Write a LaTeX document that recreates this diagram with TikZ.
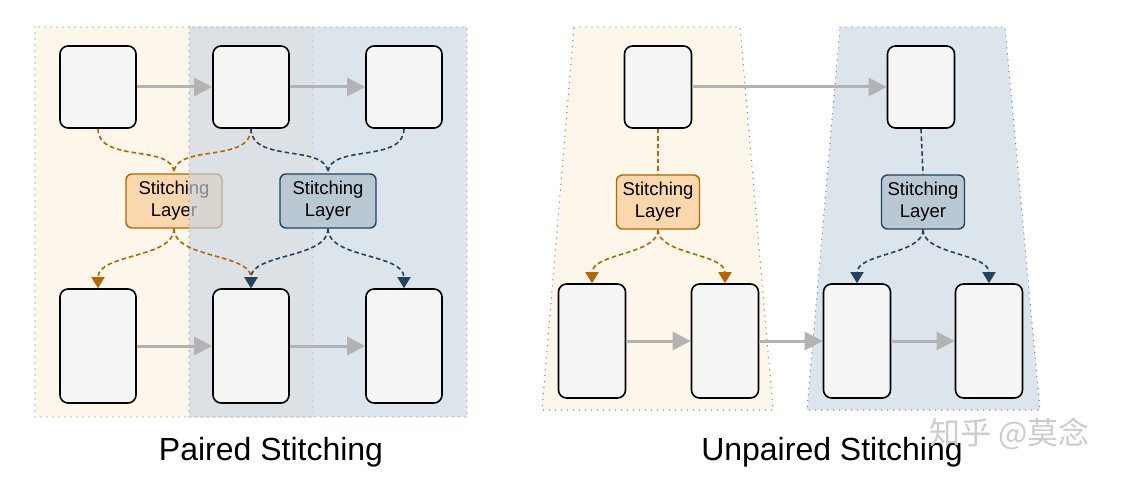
\documentclass[tikz,border=0pt]{standalone}
\usepackage{fontspec}
\setmainfont{Liberation Sans}
\newfontfamily\cjk{Noto Sans CJK SC}
\usetikzlibrary{arrows.meta, positioning}
\definecolor{regorange}{HTML}{FDF6EA}
\definecolor{regblue}{HTML}{C9D6E2}
\definecolor{stitchorange}{HTML}{FAD7AC}
\definecolor{lineorange}{HTML}{B46504}
\definecolor{stitchblue}{HTML}{BAC8D3}
\definecolor{lineblue}{HTML}{23445D}
\definecolor{flowgray}{HTML}{B3B3B3}
\definecolor{blockfill}{HTML}{F5F5F5}

\begin{document}
\begin{tikzpicture}[
    x=1pt, y=-1pt,
    block/.style={draw=black, line width=1.6pt, fill=blockfill, rounded corners=8pt, minimum width=76pt, inner sep=0pt},
    tall/.style={block, minimum height=114pt},
    short/.style={block, minimum height=82pt},
    stitch/.style={rounded corners=6pt, line width=1.4pt, minimum width=96pt, minimum height=54pt, align=center, font=\fontsize{18.5}{22}\selectfont, inner sep=0pt},
    flow/.style={-{Triangle[length=18pt, width=18pt]}, flowgray, line width=3pt},
    link/.style={line width=1.6pt, dash pattern=on 4.5pt off 3pt},
    region/.style={draw=gray, line width=1.4pt, line cap=round, dash pattern=on 0pt off 6pt},
]
\useasboundingbox (0,0) rectangle (1134,481);

% Paired stitching: regions
\draw[region, fill=regorange] (35,27) rectangle (313,417);
\node[stitch, draw=lineorange, fill=stitchorange] (so) at (174,201) {Stitching\\Layer};
\draw[region, fill=regblue, fill opacity=0.65] (189,27) rectangle (467,417);
\node[stitch, draw=lineblue, fill=stitchblue] (sb) at (328,201) {Stitching\\Layer};

% Paired stitching: blocks
\node[short] (a1) at (98,87) {};
\node[short] (a2) at (251,87) {};
\node[short] (a3) at (404,87) {};
\node[tall] (b1) at (98,346) {};
\node[tall] (b2) at (251,346) {};
\node[tall] (b3) at (404,346) {};

\draw[flow] (a1) -- (a2);
\draw[flow] (a2) -- (a3);
\draw[flow] (b1) -- (b2);
\draw[flow] (b2) -- (b3);

% Paired stitching: links
\draw[link, lineorange] (a1.south) .. controls +(0,35) and +(0,-30) .. (so.north);
\draw[link, lineorange] (a2.south) .. controls +(0,35) and +(0,-30) .. (so.north);
\draw[link, lineblue] (a2.south) .. controls +(0,35) and +(0,-30) .. (sb.north);
\draw[link, lineblue] (a3.south) .. controls +(0,35) and +(0,-30) .. (sb.north);
\draw[link, lineorange, -{Triangle[length=11pt, width=13pt]}] (so.south) .. controls +(0,30) and +(0,-35) .. (b1.north);
\draw[link, lineorange, -{Triangle[length=11pt, width=13pt]}] (so.south) .. controls +(0,30) and +(0,-35) .. (b2.north);
\draw[link, lineblue, -{Triangle[length=11pt, width=13pt]}] (sb.south) .. controls +(0,30) and +(0,-35) .. (b2.north);
\draw[link, lineblue, -{Triangle[length=11pt, width=13pt]}] (sb.south) .. controls +(0,30) and +(0,-35) .. (b3.north);

\node[font=\fontsize{32}{36}\selectfont] (tp) at (271,452) {Paired Stitching};

% Unpaired stitching: regions
\draw[region, fill=regorange] (574,27) -- (740,27) -- (773,410) -- (542,410) -- cycle;
\draw[region, fill=regblue, fill opacity=0.65] (840,27) -- (1005,27) -- (1040,410) -- (807,410) -- cycle;

% Unpaired stitching: blocks
\node[short, minimum width=67pt] (c1) at (658,87) {};
\node[short, minimum width=67pt] (c2) at (921,87) {};
\node[tall, minimum width=67pt] (d1) at (592,341) {};
\node[tall, minimum width=67pt] (d2) at (725,341) {};
\node[tall, minimum width=67pt] (d3) at (857,341) {};
\node[tall, minimum width=67pt] (d4) at (989,341) {};
\node[stitch, minimum width=83pt, draw=lineorange, fill=stitchorange] (uo) at (658,202) {Stitching\\Layer};
\node[stitch, minimum width=83pt, draw=lineblue, fill=stitchblue] (ub) at (923,202) {Stitching\\Layer};

\draw[flow] (c1) -- (c2);
\draw[flow] (d1) -- (d2);
\draw[flow] (d2) -- (d3);
\draw[flow] (d3) -- (d4);

% Unpaired stitching: links
\draw[link, lineorange] (c1) -- (uo);
\draw[link, lineblue] (c2.south) -- (ub.north);
\draw[link, lineorange, -{Triangle[length=11pt, width=13pt]}] (uo.south) .. controls +(0,25) and +(0,-30) .. (d1.north);
\draw[link, lineorange, -{Triangle[length=11pt, width=13pt]}] (uo.south) .. controls +(0,25) and +(0,-30) .. (d2.north);
\draw[link, lineblue, -{Triangle[length=11pt, width=13pt]}] (ub.south) .. controls +(0,25) and +(0,-30) .. (d3.north);
\draw[link, lineblue, -{Triangle[length=11pt, width=13pt]}] (ub.south) .. controls +(0,25) and +(0,-30) .. (d4.north);

\node[font=\fontsize{32}{36}\selectfont] (tu) at (832,452) {Unpaired Stitching};
\node[font=\cjk\fontsize{31}{34}\selectfont, text=gray!40, anchor=west] (wm) at (926,434) {知乎 @莫念};
\end{tikzpicture}
\end{document}
